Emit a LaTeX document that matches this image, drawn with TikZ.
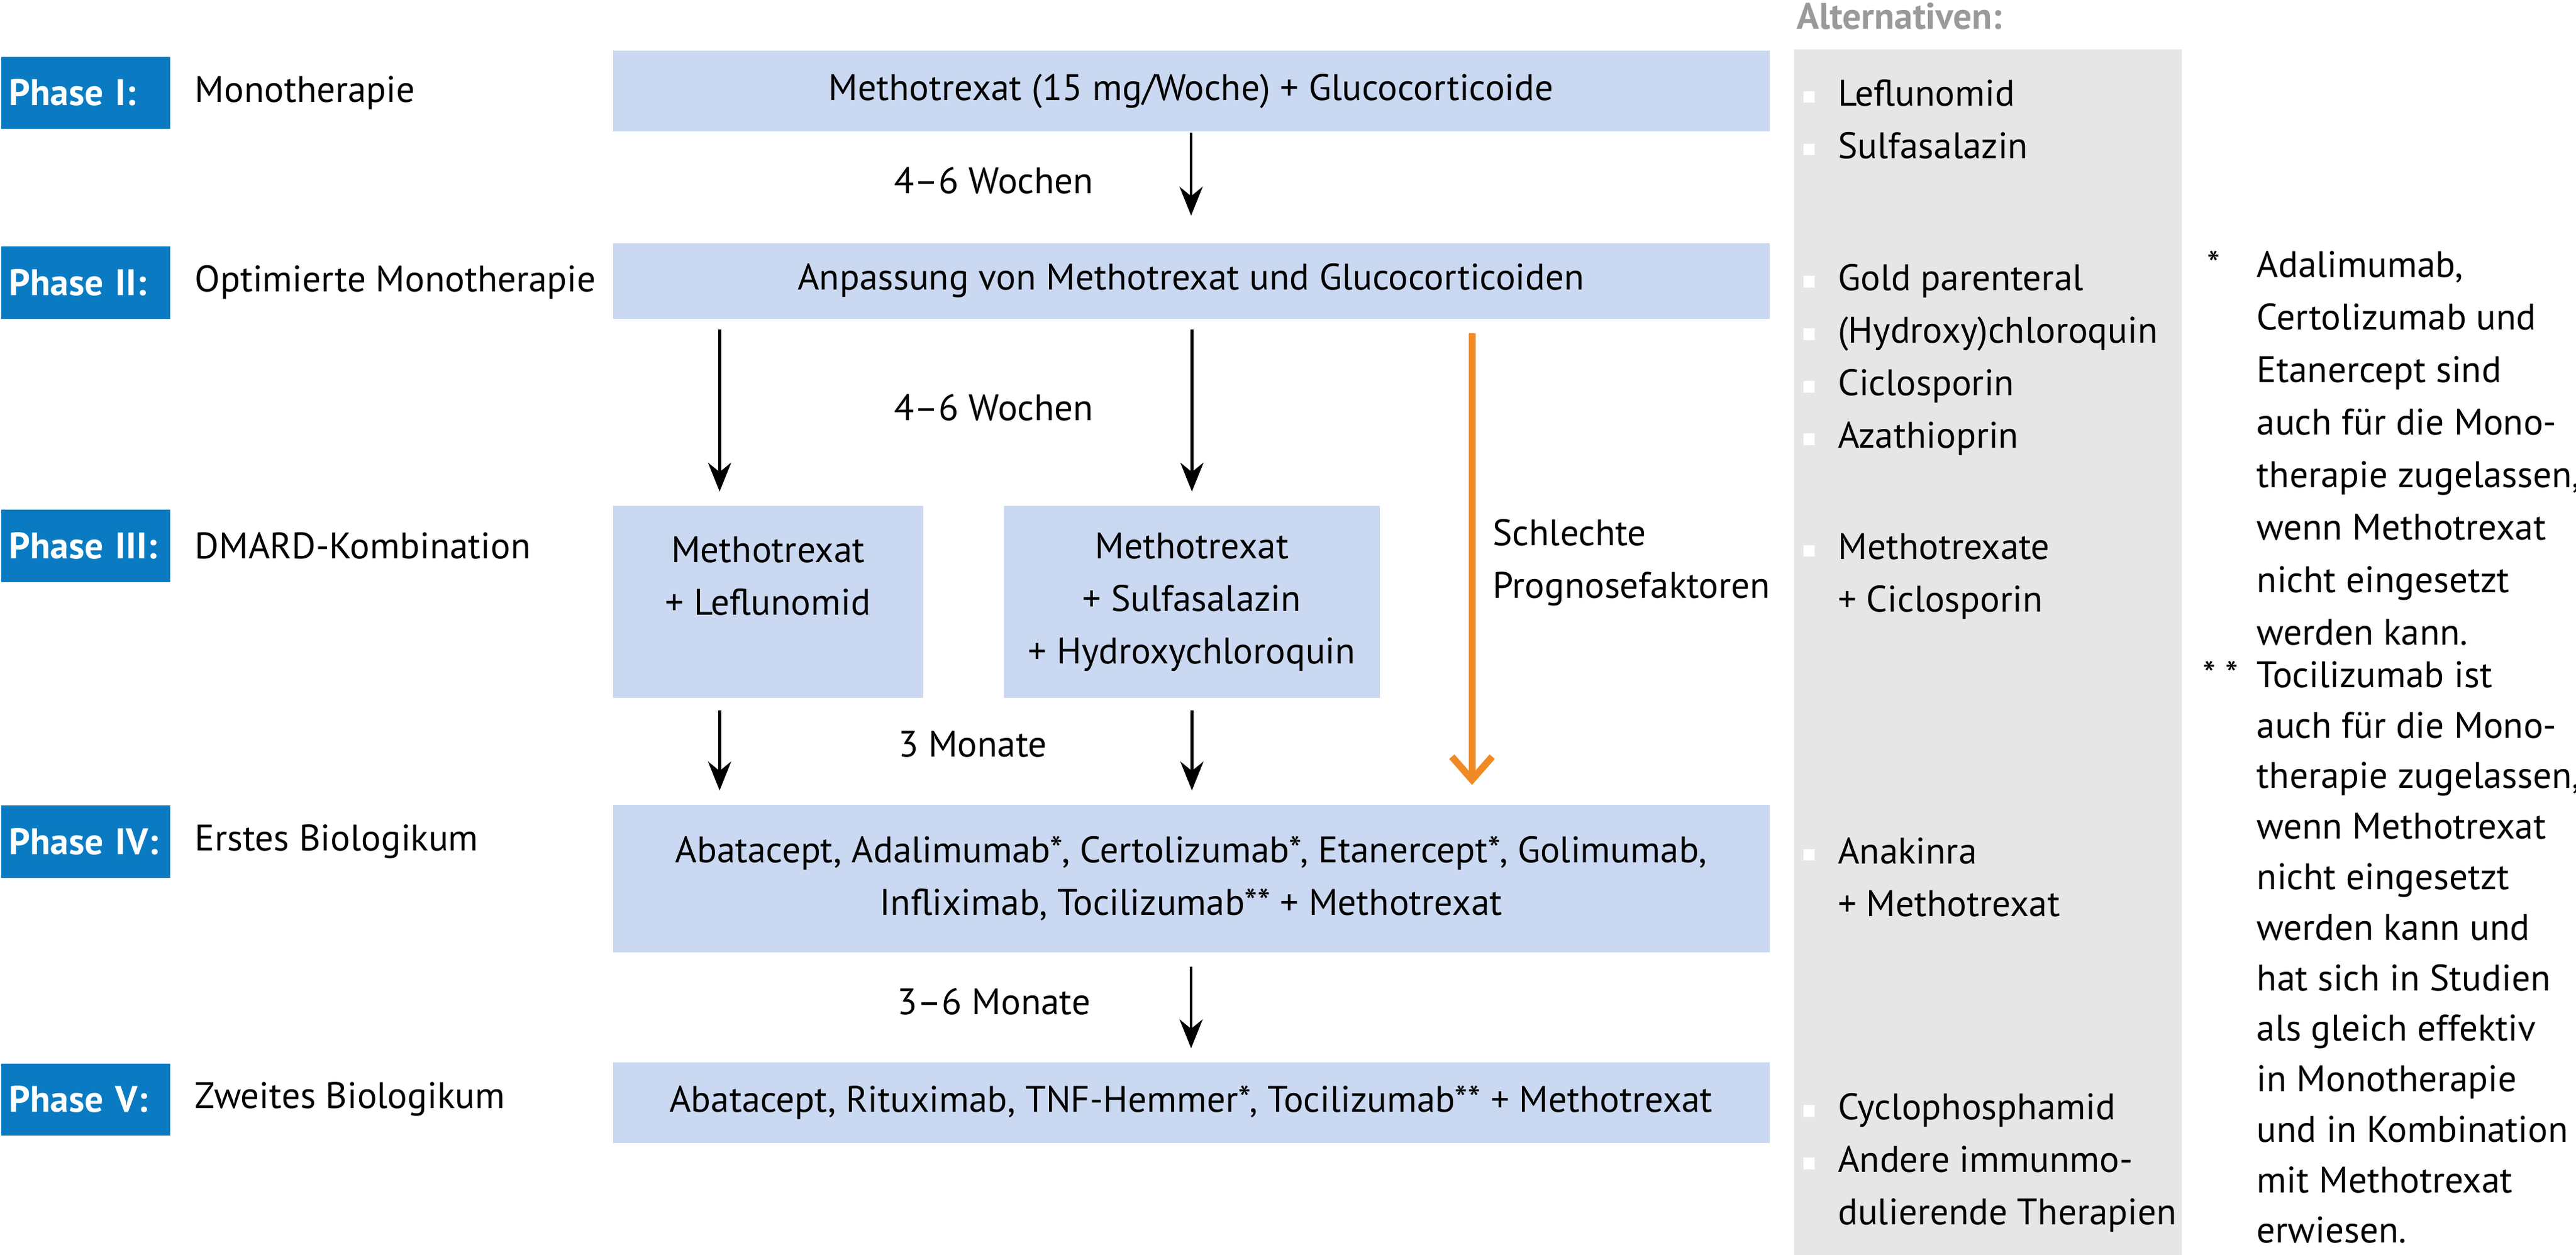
\documentclass[tikz,border=0pt]{standalone}
\usepackage{fontspec}
\setmainfont{PT Sans}
\usetikzlibrary{arrows.meta}
\definecolor{tabblue}{HTML}{0A7BC2}
\definecolor{boxblue}{HTML}{CAD9F1}
\definecolor{altgrey}{HTML}{E6E6E7}
\definecolor{headgrey}{HTML}{9A9A9A}
\definecolor{prognose}{HTML}{F08A24}
\newcommand{\bul}{{\color{white}\rule[0.5pt]{2pt}{2pt}}\hspace{4pt}}
\newcommand{\nobul}{\hspace{6pt}}
\begin{document}
\begin{tikzpicture}[font=\fontsize{6.4}{9.1}\selectfont,
	tab/.style = {fill=tabblue, text=white, font=\fontsize{6.4}{9.1}\selectfont\bfseries, minimum width=1.03cm, minimum height=0.44cm, text width=0.93cm, inner xsep=0.05cm, anchor=west},
	desc/.style = {anchor=west, inner sep=0},
	lbox/.style = {fill=boxblue, align=center, inner sep=0},
	alt/.style = {anchor=west, align=left, inner sep=0},
	arr/.style = {-{Stealth[length=5pt,width=4pt]}, line width=0.5pt, shorten >=0.08cm},
	fn/.style = {anchor=north west, align=left, inner sep=0}]
	\useasboundingbox (0,0) rectangle (15.68,7.64);
	
	% alternatives column
	\fill[altgrey] (10.92,0) rectangle (13.28,7.34);
	\node[alt, text=headgrey, font=\fontsize{6.4}{9.1}\selectfont\bfseries] (althead) at (10.93,7.54) {Alternativen:};
	
	% phases
	\node[tab] (ph1) at (0,7.075) {\makebox[0pt][l]{Phase I:}};
	\node[tab] (ph2) at (0,5.92) {\makebox[0pt][l]{Phase II:}};
	\node[tab] (ph3) at (0,4.315) {\makebox[0pt][l]{Phase III:}};
	\node[tab] (ph4) at (0,2.515) {\makebox[0pt][l]{Phase IV:}};
	\node[tab] (ph5) at (0,0.945) {\makebox[0pt][l]{Phase V:}};
	\node[desc] (d1) at (1.18,7.075) {Monotherapie};
	\node[desc] (d2) at (1.18,5.92) {Optimierte Monotherapie};
	\node[desc] (d3) at (1.18,4.315) {DMARD-Kombination};
	\node[desc] (d4) at (1.18,2.515) {Erstes Biologikum};
	\node[desc] (d5) at (1.18,0.945) {Zweites Biologikum};
	
	% therapy boxes
	\node[lbox, minimum width=7.04cm, minimum height=0.49cm] (box1) at (7.25,7.085) {Methotrexat (15 mg/Woche) + Glucocorticoide};
	\node[lbox, minimum width=7.04cm, minimum height=0.46cm] (box2) at (7.25,5.93) {Anpassung von Methotrexat und Glucocorticoiden};
	\node[lbox, minimum width=1.89cm, minimum height=1.17cm] (box3a) at (4.675,3.975) {Methotrexat\\+ Leflunomid\\~};
	\node[lbox, minimum width=2.29cm, minimum height=1.17cm] (box3b) at (7.255,3.975) {Methotrexat\\+ Sulfasalazin\\+ Hydroxychloroquin};
	\node[lbox, minimum width=7.04cm, minimum height=0.90cm] (box4) at (7.25,2.29) {Abatacept, Adalimumab*, Certolizumab*, Etanercept*, Golimumab,\\Infliximab, Tocilizumab** + Methotrexat};
	\node[lbox, minimum width=7.04cm, minimum height=0.49cm] (box5) at (7.25,0.925) {Abatacept, Rituximab, TNF-Hemmer*, Tocilizumab** + Methotrexat};
	
	% arrows
	\coordinate (la) at (4.38,0);
	\draw[arr] (box1.south) -- ([yshift=0.08cm]box2.north);
	\draw[arr] ([yshift=-0.06cm]box2.south -| la) -- (box3a.north -| la);
	\draw[arr] ([yshift=-0.06cm]box2.south -| box3b) -- (box3b.north);
	\draw[arr] ([yshift=-0.07cm]box3a.south -| la) -- (box4.north -| la);
	\draw[arr] ([yshift=-0.07cm]box3b.south) -- (box4.north -| box3b);
	\draw[arr] ([yshift=-0.08cm]box4.south) -- (box5.north);
	\coordinate (og1) at (8.96,5.61);
	\coordinate (og2) at (8.96,2.86);
	\draw[prognose, line width=1.2pt, -{Straight Barb[length=4pt,width=7pt]}] (og1) -- (og2);
	
	% arrow labels
	\node (w1) at (6.05,6.54) {4--6 Wochen};
	\node (w2) at (6.05,5.16) {4--6 Wochen};
	\node (m1) at (5.92,3.11) {3 Monate};
	\node (m2) at (6.05,1.54) {3--6 Monate};
	\node[alt] (prog) at (9.08,4.215) {Schlechte\\Prognosefaktoren};
	
	% alternatives
	\node[alt] (a1) at (10.97,6.915) {\bul Leflunomid\\\bul Sulfasalazin};
	\node[alt] (a2) at (10.97,5.45) {\bul Gold parenteral\\\bul (Hydroxy)chloroquin\\\bul Ciclosporin\\\bul Azathioprin};
	\node[alt] (a3) at (10.97,4.13) {\bul Methotrexate\\\nobul + Ciclosporin};
	\node[alt] (a4) at (10.97,2.30) {\bul Anakinra\\\nobul + Methotrexat};
	\node[alt] (a5) at (10.97,0.56) {\bul Cyclophosphamid\\\bul Andere immunmo-\\\nobul dulierende Therapien};
	
	% footnotes
	\node[fn] (s1) at (13.43,6.12) {*};
	\node[fn] (f1) at (13.73,6.12) {Adalimumab,\\Certolizumab und\\Etanercept sind\\auch für die Mono-\\therapie zugelassen,\\wenn Methotrexat\\nicht eingesetzt\\werden kann.};
	\node[fn] (s2) at (13.40,3.62) {* *};
	\node[fn, font=\fontsize{6.4}{8.75}\selectfont] (f2) at (13.73,3.62) {Tocilizumab ist\\auch für die Mono-\\therapie zugelassen,\\wenn Methotrexat\\nicht eingesetzt\\werden kann und\\hat sich in Studien\\als gleich effektiv\\in Monotherapie\\und in Kombination\\mit Methotrexat\\erwiesen.};
\end{tikzpicture}
\end{document}
